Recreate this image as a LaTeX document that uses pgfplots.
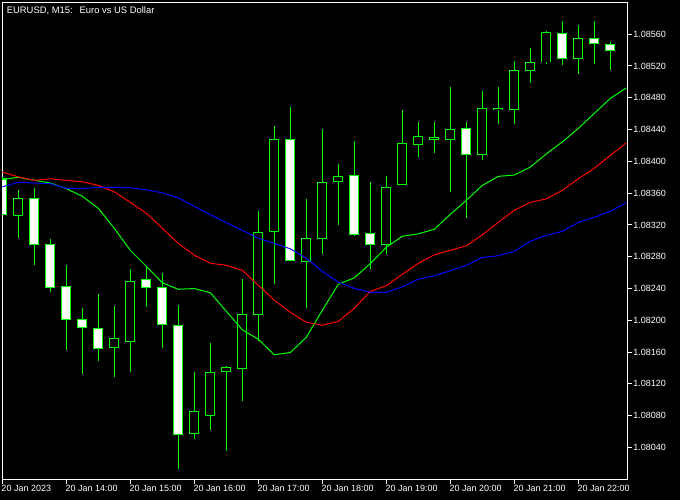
\documentclass[border=0pt]{standalone}
\usepackage{pgfplots}
\pgfplotsset{compat=1.18}
\usepackage{pgfplotstable}
\usepackage{fontspec}
\setmainfont{Liberation Sans}

\definecolor{mtgreen}{RGB}{0,255,0}
\definecolor{mtred}{RGB}{255,0,0}
\definecolor{mtblue}{RGB}{0,0,255}

% EURUSD M15, 20 Jan 2023 13:00 - 22:30, x = bar number
% rising bars (close > open)
\pgfplotstableread{
x open high low close
1 1.08332 1.08364 1.08304 1.08353
7 1.08166 1.08218 1.08129 1.08177
8 1.08173 1.08265 1.08135 1.08249
12 1.08057 1.08135 1.08051 1.08085
13 1.08080 1.08171 1.08062 1.08134
14 1.08135 1.08143 1.08036 1.08140
15 1.08139 1.08252 1.08098 1.08207
16 1.08207 1.08337 1.08174 1.08310
17 1.08312 1.08445 1.08246 1.08428
19 1.08274 1.08353 1.08215 1.08303
20 1.08303 1.08441 1.08283 1.08374
21 1.08375 1.08397 1.08320 1.08381
24 1.08295 1.08382 1.08284 1.08367
25 1.08371 1.08465 1.08370 1.08423
26 1.08421 1.08450 1.08405 1.08431
27 1.08428 1.08449 1.08410 1.08430
28 1.08427 1.08493 1.08361 1.08440
30 1.08408 1.08489 1.08402 1.08466
31 1.08465 1.08494 1.08447 1.08467
32 1.08465 1.08526 1.08447 1.08514
33 1.08514 1.08542 1.08499 1.08525
34 1.08525 1.08564 1.08523 1.08562
36 1.08529 1.08571 1.08510 1.08554
}\bull

% falling bars (close < open)
\pgfplotstableread{
x open high low close
0 1.08378 1.08380 1.08332 1.08333
2 1.08353 1.08367 1.08269 1.08295
3 1.08295 1.08302 1.08236 1.08241
4 1.08242 1.08269 1.08163 1.08201
5 1.08201 1.08216 1.08133 1.08191
6 1.08190 1.08233 1.08149 1.08164
9 1.08251 1.08268 1.08217 1.08241
10 1.08241 1.08260 1.08165 1.08195
11 1.08193 1.08219 1.08013 1.08056
18 1.08428 1.08468 1.08274 1.08275
22 1.08382 1.08426 1.08306 1.08308
23 1.08309 1.08374 1.08264 1.08295
29 1.08441 1.08449 1.08329 1.08408
35 1.08561 1.08577 1.08521 1.08530
37 1.08554 1.08576 1.08523 1.08548
38 1.08547 1.08550 1.08515 1.08539
}\bear

% moving averages
\pgfplotstableread{
x fast mid slow
0 1.083770 1.083865 1.083679
1 1.083799 1.083805 1.083736
2 1.083761 1.083761 1.083727
3 1.083727 1.083780 1.083719
4 1.083657 1.083761 1.083660
5 1.083560 1.083742 1.083657
6 1.083409 1.083698 1.083673
7 1.083157 1.083616 1.083673
8 1.082880 1.083484 1.083667
9 1.082679 1.083346 1.083641
10 1.082472 1.083157 1.083604
11 1.082390 1.082968 1.083541
12 1.082399 1.082818 1.083434
13 1.082346 1.082717 1.083327
14 1.082113 1.082692 1.083226
15 1.081880 1.082629 1.083132
16 1.081761 1.082440 1.083031
17 1.081566 1.082251 1.082968
18 1.081594 1.082101 1.082899
19 1.081786 1.081975 1.082780
20 1.082126 1.081937 1.082616
21 1.082453 1.081987 1.082478
22 1.082534 1.082151 1.082402
23 1.082713 1.082365 1.082352
24 1.082918 1.082434 1.082352
25 1.083057 1.082579 1.082421
26 1.083088 1.082717 1.082516
27 1.083145 1.082824 1.082560
28 1.083333 1.082880 1.082623
29 1.083509 1.082937 1.082692
30 1.083698 1.083075 1.082792
31 1.083811 1.083233 1.082811
32 1.083828 1.083384 1.082868
33 1.083928 1.083484 1.082994
34 1.084094 1.083528 1.083069
35 1.084245 1.083635 1.083119
36 1.084415 1.083780 1.083233
37 1.084604 1.083912 1.083296
38 1.084792 1.084075 1.083371
39 1.084924 1.084233 1.083478
}\ma

\pgfplotsset{
  bars/.style={draw=none, mark=none,
    error bars/.cd, y dir=plus, y explicit, error mark=none,
    error bar style={#1}},
}

\begin{document}
\begin{tikzpicture}
\fill[black] (0,0) rectangle (680bp,500bp);
\path[use as bounding box] (0,0) rectangle (680bp,500bp);
\begin{axis}[
  scale only axis, width=625.4bp, height=476.8bp,
  at={(2.14bp,20.8bp)}, anchor=south west,
  xmin=-0.01, xmax=39.075, ymin=1.08, ymax=1.086,
  axis line style={white, line width=1bp},
  tick style={white, line width=1bp},
  tick align=outside, major tick length=4.5bp,
  xtick pos=left, ytick pos=right, yticklabel pos=right,
  scaled y ticks=false,
  xtick={0,4,8,12,16,20,24,28,32,36},
  xticklabels={20 Jan 2023, 20 Jan 14:00, 20 Jan 15:00, 20 Jan 16:00,
    20 Jan 17:00, 20 Jan 18:00, 20 Jan 19:00, 20 Jan 20:00,
    20 Jan 21:00, 20 Jan 22:00},
  ytick={1.0804,1.0808,1.0812,1.0816,1.0820,1.0824,1.0828,1.0832,
    1.0836,1.0840,1.0844,1.0848,1.0852,1.0856},
  yticklabels={1.08040,1.08080,1.08120,1.08160,1.08200,1.08240,1.08280,
    1.08320,1.08360,1.08400,1.08440,1.08480,1.08520,1.08560},
  ticklabel style={text=white, font=\fontsize{9bp}{10bp}\selectfont,
    inner sep=0pt},
  xticklabel style={anchor=base west, xshift=-1bp, yshift=-8bp},
  yticklabel style={anchor=west, xshift=1bp},
]
% wicks
\addplot[bars={draw=mtgreen, line width=1bp}]
  table[x=x, y=low, y error expr=\thisrow{high}-\thisrow{low}] {\bull};
\addplot[bars={draw=mtgreen, line width=1bp}]
  table[x=x, y=low, y error expr=\thisrow{high}-\thisrow{low}] {\bear};
% body outlines
\addplot[bars={draw=mtgreen, line width=10bp}]
  table[x=x, y expr=\thisrow{open}-0.0000063,
    y error expr=\thisrow{close}-\thisrow{open}+0.0000126] {\bull};
\addplot[bars={draw=mtgreen, line width=10bp}]
  table[x=x, y expr=\thisrow{close}-0.0000063,
    y error expr=\thisrow{open}-\thisrow{close}+0.0000126] {\bear};
% body fills
\addplot[bars={draw=black, line width=8bp}]
  table[x=x, y expr=\thisrow{open}+0.0000063,
    y error expr=\thisrow{close}-\thisrow{open}-0.0000126] {\bull};
\addplot[bars={draw=white, line width=8bp}]
  table[x=x, y expr=\thisrow{close}+0.0000063,
    y error expr=\thisrow{open}-\thisrow{close}-0.0000126] {\bear};
% moving averages
\addplot[mtgreen, line width=1bp, no marks] table[x=x, y=fast] {\ma};
\addplot[mtred, line width=1bp, no marks] table[x=x, y=mid] {\ma};
\addplot[mtblue, line width=1bp, no marks] table[x=x, y=slow] {\ma};
\end{axis}
\node[anchor=base west, inner sep=0pt, text=white,
  font=\fontsize{9.4bp}{11bp}\selectfont] at (6.7bp,486.7bp)
  {EURUSD, M15:\hspace{7bp}Euro vs US Dollar};
\end{tikzpicture}
\end{document}
